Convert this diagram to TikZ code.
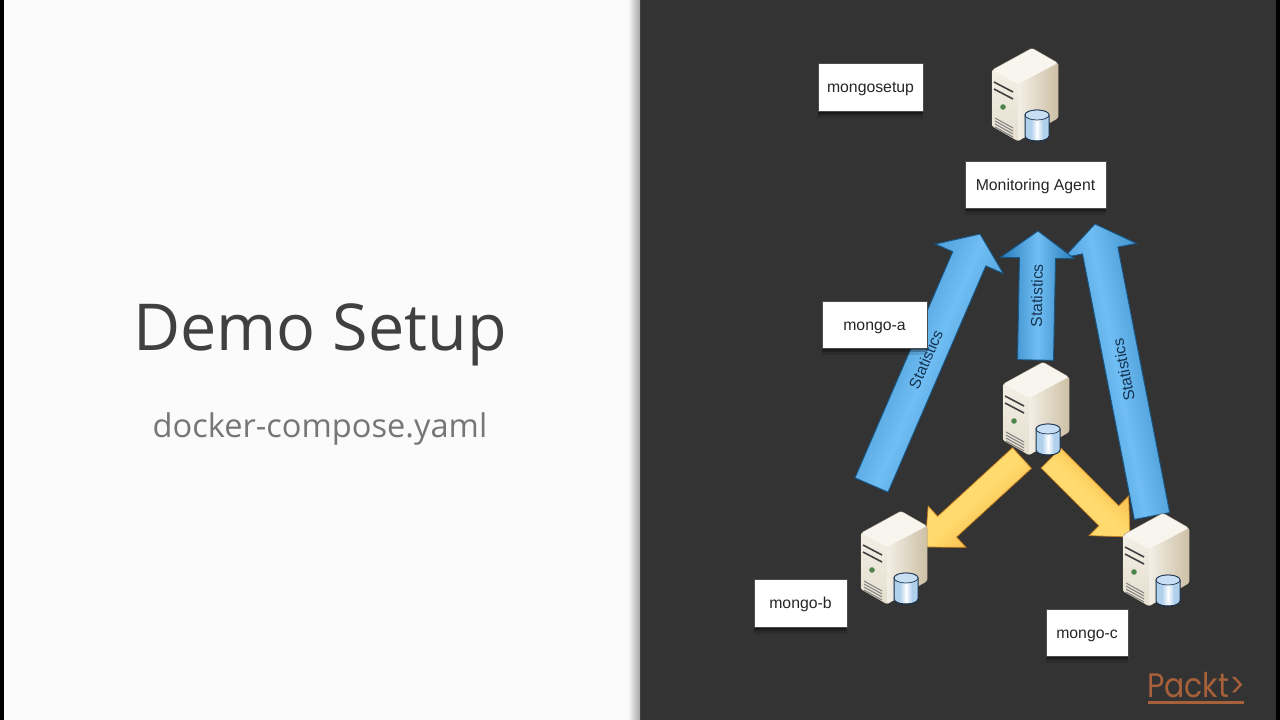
\documentclass[tikz,border=0pt]{standalone}
\usepackage{fontspec}
\setmainfont{Liberation Sans}
\newfontfamily\slidefont{Open Sans}
\newfontfamily\logofont[FakeStretch=0.88]{Poppins}
\usepackage{tikz}
\usetikzlibrary{calc,positioning,shadows}
\definecolor{slidedark}{RGB}{51, 51, 51}
\definecolor{slidelight}{RGB}{251, 251, 251}
\definecolor{titlegray}{RGB}{64, 64, 64}
\definecolor{subgray}{RGB}{118, 118, 118}
\definecolor{statblue}{RGB}{112, 190, 243}
\definecolor{statdeep}{RGB}{40, 122, 186}
\definecolor{statedge}{RGB}{24, 86, 132}
\definecolor{statnavy}{RGB}{22, 52, 82}
\definecolor{replyellow}{RGB}{255, 218, 110}
\definecolor{replydeep}{RGB}{246, 176, 60}
\definecolor{replyedge}{RGB}{196, 124, 30}
\definecolor{packtorange}{RGB}{166, 96, 58}
\definecolor{caseedge}{RGB}{140, 130, 110}
\definecolor{caselight}{RGB}{243, 239, 229}
\definecolor{casedark}{RGB}{205, 192, 166}
\definecolor{drumblue}{RGB}{176, 208, 236}
\definecolor{drumedge}{RGB}{24, 48, 76}
\tikzstyle{labelbox} = [rectangle, draw=black!70, line width=0.5pt, fill=white, text=black!85, align=center, font=\fontsize{15.8}{18}\selectfont, inner sep=0pt, text height=11pt, text depth=0pt,
  drop shadow={shadow xshift=0pt, shadow yshift=-2pt, fill=black, opacity=0.3},
  drop shadow={shadow xshift=0pt, shadow yshift=-4pt, fill=black, opacity=0.25},
  drop shadow={shadow xshift=0pt, shadow yshift=-7pt, fill=black, opacity=0.12}]
\tikzstyle{stattext} = [sloped, allow upside down, text=statnavy, font=\fontsize{15.7}{18}\selectfont, inner sep=0pt]
\tikzset{
  blockarrow/.style n args={3}{line join=miter,
    to path={
      ($(\tikztostart)!#1!90:(\tikztotarget)$)
      -- ($(\tikztotarget)!#3!(\tikztostart)!#1!-90:(\tikztostart)$)
      -- ($(\tikztotarget)!#3!(\tikztostart)!#2!-90:(\tikztostart)$)
      -- (\tikztotarget)
      -- ($(\tikztotarget)!#3!(\tikztostart)!#2!90:(\tikztostart)$)
      -- ($(\tikztotarget)!#3!(\tikztostart)!#1!90:(\tikztostart)$)
      -- ($(\tikztostart)!#1!-90:(\tikztotarget)$) -- cycle}},
  statarrow/.style={blockarrow={18pt}{37pt}{27pt}, draw=statedge, line width=0.9pt, left color=statdeep, right color=statdeep, middle color=statblue, shading angle=#1},
  replyarrow/.style={blockarrow={14pt}{28pt}{30pt}, draw=replyedge, line width=0.7pt, left color=replyellow, right color=replydeep, middle color=replyellow, shading angle=#1},
  pics/server/.style={code={
    % case
    \fill[caselight, draw=caseedge, line width=0.5pt, line join=round, rounded corners=2pt] (41,0) -- (67,15) -- (67,70) -- (27,93) -- (1,78) -- (1,22) -- cycle;
    \shade[left color=caselight, right color=casedark, rounded corners=1pt] (27,36) -- (67,15) -- (67,70) -- (27,93) -- cycle;
    \shade[top color=caselight, bottom color=caselight!65!casedark, rounded corners=1pt] (1,22) -- (27,36) -- (27,93) -- (1,78) -- cycle;
    \fill[white!40!caselight, rounded corners=2pt] (41,0.5) -- (66.5,15) -- (27,36) -- (1.5,22) -- cycle;
    % slots
    \draw[black!75, line width=1.6pt] (3,34) -- (22,44);
    \draw[black!75, line width=1.6pt] (3,41) -- (22,51);
    \fill[black!45!green!40!gray] (12,59) circle (2.8pt);
    \foreach \ventnum in {0,1,2,3}
      \draw[black!50, line width=1pt] (4,{70+3*\ventnum}) -- (22,{80+3*\ventnum});
    % drum
    \fill[drumblue, draw=drumedge, line width=1pt] (34,67) -- (34,88) arc[start angle=180, end angle=360, x radius=12pt, y radius=5pt] -- (58,67) arc[start angle=0, end angle=180, x radius=12pt, y radius=5pt] -- cycle;
    \shade[left color=drumblue, right color=drumblue, middle color=white] (40,72) rectangle (52,91);
    \draw[drumedge, line width=0.7pt, fill=drumblue!70] (46,67) ellipse [x radius=12pt, y radius=5pt];
  }}
}
\begin{document}
\begin{tikzpicture}[x=1pt, y=-1pt]
\useasboundingbox (0,0) rectangle (1280,720);

% slide =============================
\fill[black] (0,0) rectangle (1280,720);
\fill[slidelight] (4,0) rectangle (640,720);
\fill[slidedark] (640,0) rectangle (1276,720);
\shade[left color=slidelight, right color=black!35] (628,0) rectangle (640,720);

\node[anchor=base, text=titlegray, font=\slidefont\fontsize{64.7}{70}\selectfont, inner sep=0pt] (title) at (320,350) {Demo Setup};
\node[anchor=base, text=subgray, font=\slidefont\fontsize{32.6}{38}\selectfont, inner sep=0pt] (subtitle) at (320,437) {docker-compose.yaml};

% free ends of the arrows
\coordinate (taila) at (871.5,485);
\coordinate (tipa) at (980,234);
\coordinate (tailm) at (1035.5,360);
\coordinate (tipm) at (1038,231);
\coordinate (tailc) at (1152,516);
\coordinate (tipc) at (1095,224);
\coordinate (tailyb) at (1022,458);
\coordinate (tipyb) at (925,547);
\coordinate (tailyc) at (1051,458);
\coordinate (tipyc) at (1130,537);

% arrows
\draw[statarrow=66.6] (taila) to (tipa);
\draw[statarrow=101] (tailc) to (tipc);
\draw[statarrow=90] (tailm) to (tipm);
\draw[replyarrow=42.5] (tailyb) to (tipyb);
\draw[replyarrow=135] (tailyc) to (tipyc);

\path (taila) -- node[stattext] (stata) {Statistics} (tipa);
\path (tailm) -- node[stattext] (statm) {Statistics} (tipm);
\path (tailc) -- node[stattext] (statc) {Statistics} (tipc);

% servers
\pic (srvtop) at (991,48) {server};
\pic (srvm) at (1002,362) {server};
\pic (srvb) at (860,511) {server};
\pic (srvc) at (1122,513) {server};

% labels
\node[labelbox, minimum width=105pt, minimum height=48pt] (mongosetup) at (870.5,87) {mongosetup};
\node[labelbox, minimum width=141pt, minimum height=47pt] (agent) at (1035.5,184.5) {Monitoring Agent};
\node[labelbox, minimum width=105pt, minimum height=47pt] (mongoa) at (874.5,324.5) {mongo-a};
\node[labelbox, minimum width=93pt, minimum height=48pt] (mongob) at (800.5,603) {mongo-b};
\node[labelbox, minimum width=82pt, minimum height=47pt] (mongoc) at (1087,632.5) {mongo-c};

% logo
\node[anchor=base west, text=packtorange, font=\logofont\fontsize{34}{38}\selectfont, inner sep=0pt] (packt) at (1147,697) {Packt>};
\coordinate (packtl) at (1148,702.5);
\coordinate (packtr) at (1244,702.5);
\draw[packtorange, line width=2.4pt] (packtl) -- (packtr);

\end{tikzpicture}
\end{document}
